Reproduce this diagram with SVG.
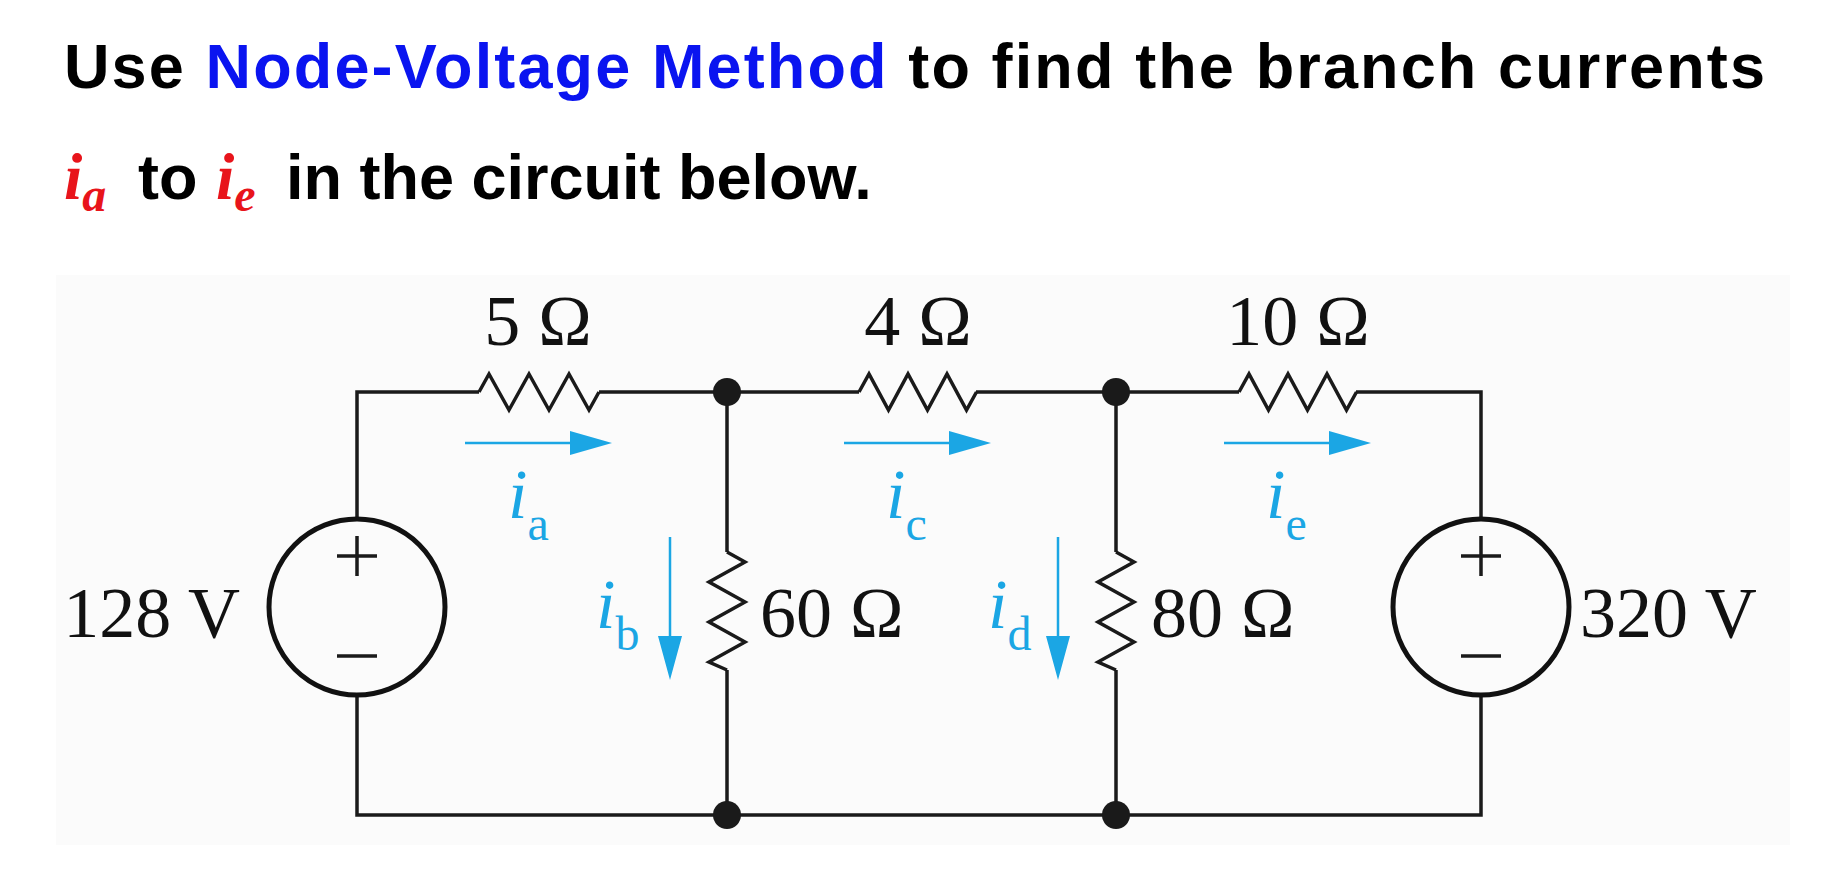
<svg xmlns="http://www.w3.org/2000/svg" width="1833" height="890" viewBox="0 0 1833 890">
<style>
.w{fill:none;stroke:#1a1a1a;stroke-width:3.5;stroke-linejoin:miter}
.src{fill:none;stroke:#111;stroke-width:5}
.lbl{font-family:"Liberation Serif",serif;font-size:72px;fill:#111}
.cur{font-family:"Liberation Serif",serif;font-style:italic;font-size:70px;fill:#1ba6e4}
.sub{font-family:"Liberation Serif",serif;font-size:48px;fill:#1ba6e4}
.arr{stroke:#1ba6e4;stroke-width:2.5;fill:none}
.ah{fill:#1ba6e4}
.title{font-family:"Liberation Sans",Arial,sans-serif;font-weight:bold;font-size:63px;fill:#000}
.red{font-family:"Liberation Serif",serif;font-style:italic;font-weight:bold;fill:#e8141b}
</style>
<rect width="1833" height="890" fill="#fff"/>
<rect x="56" y="275" width="1734" height="570" fill="#fbfbfb"/>
<g id="title">
<text class="title" x="64" y="88" textLength="1701" lengthAdjust="spacing">Use <tspan fill="#0a14f0">Node-Voltage Method</tspan> to find the branch currents</text>
<text class="title" y="199"><tspan class="red" x="64" font-size="66">i</tspan><tspan class="red" font-size="48" dy="12">a</tspan><tspan x="138" dy="-12">to </tspan><tspan class="red" x="216" font-size="66">i</tspan><tspan class="red" font-size="48" dy="12">e</tspan><tspan x="286" dy="-12">in the circuit below.</tspan></text>
</g>
<g id="connectors">
<path class="w" d="M357,519 V392 H479 M599,392 H859 M976,392 H1239 M1356,392 H1481 V519"/>
<path class="w" d="M357,695 V815 H1481 V695"/>
<path class="w" d="M727,392 V552 M727,670 V815 M1116,392 V552 M1116,670 V815"/>
</g>
<g id="R5"><path class="w" d="M479,392 l10,-18 l20,36 l20,-36 l20,36 l20,-36 l20,36 l10,-18"/><text class="lbl" x="538" y="345" text-anchor="middle">5 Ω</text></g>
<g id="R4"><path class="w" d="M859,392 l10,-18 l19.5,36 l19.5,-36 l19.5,36 l19.5,-36 l19.5,36 l10,-18"/><text class="lbl" x="918" y="345" text-anchor="middle">4 Ω</text></g>
<g id="R10"><path class="w" d="M1239,392 l10,-18 l19.5,36 l19.5,-36 l19.5,36 l19.5,-36 l19.5,36 l10,-18"/><text class="lbl" x="1298" y="345" text-anchor="middle">10 Ω</text></g>
<g id="R60"><path class="w" d="M727,552 l18,10 l-36,20 l36,20 l-36,20 l36,20 l-36,20 l18,8"/><text class="lbl" x="760" y="637">60 Ω</text></g>
<g id="R80"><path class="w" d="M1116,552 l18,10 l-36,20 l36,20 l-36,20 l36,20 l-36,20 l18,8"/><text class="lbl" x="1151" y="637">80 Ω</text></g>
<g id="V128"><circle class="src" cx="357" cy="607" r="88"/><path class="w" d="M337,556 h40 M357,536 v40 M337,656 h40" stroke-width="3"/><text class="lbl" x="240" y="637" text-anchor="end">128 V</text></g>
<g id="V320"><circle class="src" cx="1481" cy="607" r="88"/><path class="w" d="M1461,556 h40 M1481,536 v40 M1461,656 h40" stroke-width="3"/><text class="lbl" x="1580" y="637">320 V</text></g>
<g id="nodes" fill="#1a1a1a"><circle cx="727" cy="392" r="14"/><circle cx="1116" cy="392" r="14"/><circle cx="727" cy="815" r="14"/><circle cx="1116" cy="815" r="14"/></g>
<g id="currents">
<path class="arr" d="M465,443 H575 M844,443 H954 M1224,443 H1334 M670,537 V640 M1058,537 V640"/>
<path class="ah" d="M570,431 L612,443 L570,455 z M949,431 L991,443 L949,455 z M1329,431 L1371,443 L1329,455 z M658,636 L670,680 L682,636 z M1046,636 L1058,680 L1070,636 z"/>
<text x="508" y="518"><tspan class="cur">i</tspan><tspan class="sub" dy="22">a</tspan></text>
<text x="886" y="518"><tspan class="cur">i</tspan><tspan class="sub" dy="22">c</tspan></text>
<text x="1266" y="518"><tspan class="cur">i</tspan><tspan class="sub" dy="22">e</tspan></text>
<text x="596" y="628"><tspan class="cur">i</tspan><tspan class="sub" dy="22">b</tspan></text>
<text x="988" y="628"><tspan class="cur">i</tspan><tspan class="sub" dy="22">d</tspan></text>
</g>
</svg>
